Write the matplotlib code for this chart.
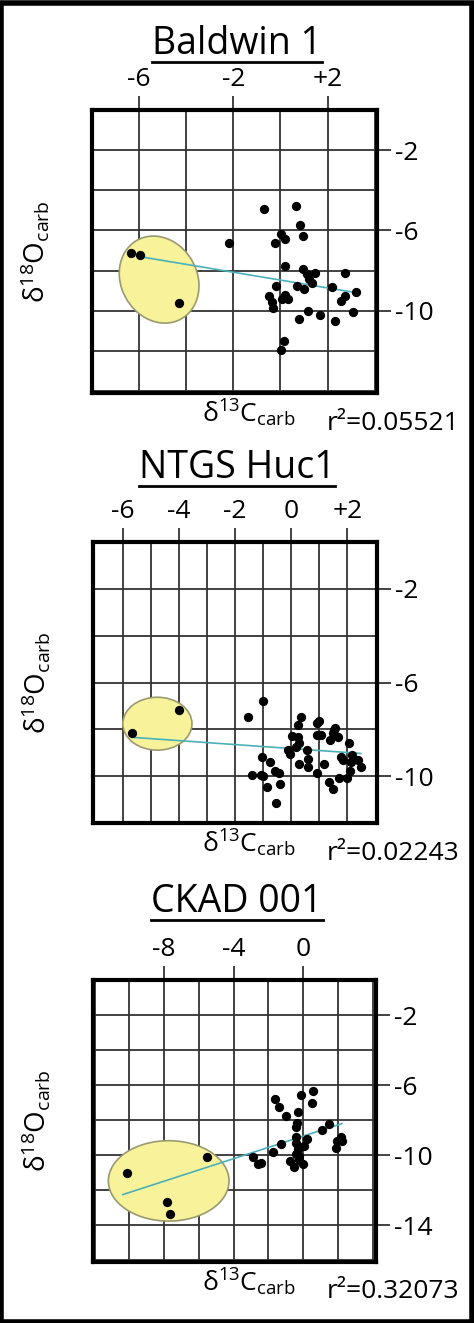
import matplotlib
matplotlib.use("Agg")
import matplotlib.pyplot as plt
from matplotlib.ticker import MultipleLocator
from matplotlib.patches import Ellipse, Rectangle
from matplotlib.lines import Line2D

plt.rcParams['font.family'] = ['Open Sans', 'DejaVu Sans']

titles = ["Baldwin 1", "NTGS Huc1", "CKAD 001"]
r2_labels = ["r²=0.05521", "r²=0.02243", "r²=0.32073"]

b_x = [-6.35, -5.96, -4.3, -2.18, -0.71, 0.64, 0.85, 0.95, 0.04, 0.21, -0.25, 0.21, 0.95, 1.13, 1.46,
       1.2, 1.35, 1.0, 0.71, -0.18, -0.5, -0.35, -0.33, 0.07, 0.21, 0.31, 2.75, 2.18, 3.2, 2.74, 2.57,
       3.07, 2.33, 1.68, 1.17, 0.8, 0.14, 0.04]
b_y = [-7.13, -7.22, -9.6, -6.62, -4.95, -4.78, -5.75, -6.28, -6.17, -6.45, -6.65, -7.75, -7.9, -8.17, -8.12,
       -8.42, -8.63, -8.92, -8.75, -8.78, -9.25, -9.58, -9.87, -9.42, -9.2, -9.42, -8.1, -8.8, -9.08, -9.25, -9.53,
       -10.05, -10.5, -10.23, -10.0, -10.43, -11.5, -11.98]

n_x = [-5.66, -4.0, -1.01, -1.52, -1.04, -0.74, -1.40, -1.07, -1.01, -0.57, -0.44, -0.39, -0.86, -0.54,
       0.35, 0.23, 0.02, 0.23, 0.29, 0.17, -0.13, -0.03, 0.55, 0.29, 0.60, 0.60, 0.91, 0.98, 0.91, 1.06,
       0.93, 1.17, 1.56, 1.47, 1.37, 1.68, 1.53, 2.06, 1.77, 1.83, 2.16, 2.12, 2.39, 2.47, 2.09, 2.0, 1.71,
       1.33, 1.47]
n_y = [-8.14, -7.19, -6.77, -7.48, -9.18, -9.39, -9.93, -9.93, -10.01, -9.78, -9.86, -10.33, -10.48, -11.16,
       -7.48, -7.81, -8.28, -8.31, -8.57, -8.74, -8.89, -9.06, -8.89, -9.46, -9.25, -9.6, -7.74, -7.66, -8.24, -8.24,
       -9.86, -9.46, -7.95, -8.17, -8.45, -8.34, -8.02, -8.6, -9.18, -9.32, -9.08, -9.4, -9.3, -9.6, -9.78, -10.08, -10.08,
       -10.23, -10.54]

c_x = [-10.15, -7.86, -7.67, -5.54, -2.88, -2.59, -2.44, -1.73, -1.29, -1.62, -1.41, -0.97, -0.30, -0.14,
       0.56, 0.51, -0.35, -0.43, -0.40, -0.43, 0.08, 0.21, -0.30, -0.40, -0.74, -0.5, -0.21, -0.02, -0.21,
       1.08, 1.5, 1.98, 2.27, 1.92, 2.17]
c_y = [-11.0, -12.68, -13.38, -10.09, -10.12, -10.5, -10.46, -9.8, -9.37, -6.82, -7.24, -7.77, -7.54, -6.54,
       -6.35, -7.01, -8.14, -8.39, -8.99, -9.28, -9.5, -9.09, -9.66, -9.94, -10.32, -10.7, -10.26, -10.5, -10.07,
       -8.58, -8.2, -9.18, -9.18, -9.6, -8.99]

xs = [b_x, n_x, c_x]
ys = [b_y, n_y, c_y]
fit_x = [[-6.0, 3.2], [-5.66, 2.47], [-10.38, 2.23]]
fit_y = [[-7.3, -9.1], [-8.34, -9.03], [-12.25, -8.2]]
ell_c = [(-5.15, -8.45), (-4.76, -7.76), (-7.74, -11.47)]
ell_wh = [(3.3, 4.4), (2.46, 2.26), (6.95, 4.59)]
ell_ang = [15, 0, 0]

xlims = [(-8, 4.1), (-7.05, 3.05), (-12.1, 4.2)]
ylims = [(-14.1, 0), (-12.0, 0), (-16.1, 0)]
xgrid = [2, 1, 2]
ygrid = [2, 2, 2]
xticks = [[-6, -2, 2], [-6, -4, -2, 0, 2], [-8, -4, 0]]
xticklabels = [["-6", "-2", "+2"], ["-6", "-4", "-2", "0", "+2"], ["-8", "-4", "0"]]
yticks = [[-2, -6, -10], [-2, -6, -10], [-2, -6, -10, -14]]
yticklabels = [["-2", "-6", "-10"], ["-2", "-6", "-10"], ["-2", "-6", "-10", "-14"]]

W, H = 474, 1323
fig = plt.figure(figsize=(W / 100, H / 100), dpi=100)
fig.add_artist(Rectangle((0.002, 0.001), 0.994, 0.997, transform=fig.transFigure, fill=False,
                         edgecolor='black', lw=4))
boxes = [(92, 110, 377, 393), (93, 542, 377, 823), (93, 980, 376, 1262)]
title_y = [44, 468, 902]

for i in range(3):
    x0, y0, x1, y1 = boxes[i]
    ax = fig.add_axes([x0 / W, 1 - y1 / H, (x1 - x0) / W, (y1 - y0) / H])
    ax.set_xlim(*xlims[i]); ax.set_ylim(*ylims[i])
    ax.xaxis.set_minor_locator(MultipleLocator(xgrid[i]))
    ax.yaxis.set_minor_locator(MultipleLocator(ygrid[i]))
    ax.grid(which='both', color='#333333', lw=1.3)
    ax.set_axisbelow(True)
    ax.set_xticks(xticks[i], xticklabels[i])
    ax.set_yticks(yticks[i], yticklabels[i])
    ax.xaxis.tick_top(); ax.yaxis.tick_right()
    ax.tick_params(which='major', length=10, width=1.3, color='#333333', labelsize=19, pad=3)
    ax.tick_params(which='minor', length=0)
    for s in ax.spines.values():
        s.set_linewidth(3)
    e = Ellipse(ell_c[i], ell_wh[i][0], ell_wh[i][1], angle=ell_ang[i], facecolor='#f8f29a',
                edgecolor='#9a9a70', lw=1.2, zorder=3)
    ax.add_patch(e)
    ax.plot(fit_x[i], fit_y[i], color='#4bb0b8', lw=1.2, zorder=4)
    ax.scatter(xs[i], ys[i], s=32, color='black', zorder=5)
    ax.text(-0.2, 0.5, r'$\mathregular{\delta^{18}O_{carb}}$', transform=ax.transAxes, rotation=90,
            ha='center', va='center', fontsize=20)
    ax.text(0.55, -0.015, r'$\mathregular{\delta^{13}C_{carb}}$', transform=ax.transAxes,
            ha='center', va='top', fontsize=19)
    ax.text((327 - x0) / (x1 - x0), -(423 - 393) / (y1 - y0), r2_labels[i], transform=ax.transAxes,
            ha='left', va='center', fontsize=19)
    t = fig.text(0.5, 1 - title_y[i] / H, titles[i], ha='center', va='center', fontsize=27)
    fig.canvas.draw()
    bb = t.get_window_extent(fig.canvas.get_renderer()).transformed(fig.transFigure.inverted())
    fig.add_artist(Line2D([bb.x0, bb.x1], [bb.y0 + 0.001, bb.y0 + 0.001], color='black', lw=2))

fig.savefig("out.png", dpi=100)
